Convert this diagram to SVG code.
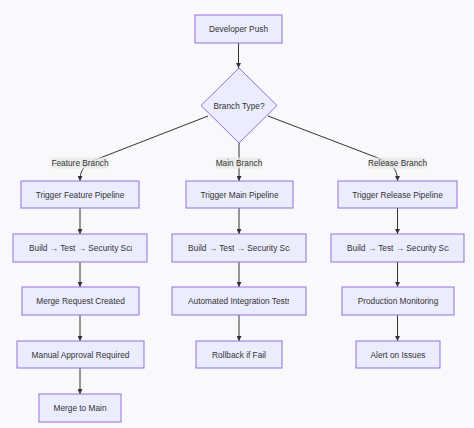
<svg xmlns="http://www.w3.org/2000/svg" width="474" height="428" viewBox="0 0 474 428">
<style>
.n rect,.n polygon{fill:#ECECFF;stroke:#9370DB;stroke-width:1}
text{font-family:"Liberation Sans",Arial,sans-serif;font-size:8.3px;fill:#333;dominant-baseline:central}
.c{text-anchor:middle}
.s{text-anchor:start}
.e path{fill:none;stroke:#333;stroke-width:1;marker-end:url(#ah)}
.lb rect{fill:#e8e8e8;fill-opacity:0.8}
</style>
<defs>
<marker id="ah" viewBox="0 0 10 10" refX="10" refY="5" markerWidth="5" markerHeight="5" orient="auto" markerUnits="userSpaceOnUse">
<path d="M0,0 L10,5 L0,10 z" fill="#333"/>
</marker>
<clipPath id="cl1"><rect x="28" y="234" width="104" height="28"/></clipPath>
<clipPath id="cl2"><rect x="187" y="234" width="103" height="28"/></clipPath>
<clipPath id="cl3"><rect x="346" y="234" width="103" height="28"/></clipPath>
<clipPath id="cl4"><rect x="187" y="287" width="102" height="28"/></clipPath>
</defs>
<rect width="474" height="428" fill="#f9f9fb"/>
<g class="e" id="connectors">
<path d="M238.5,43 L238.5,68"/>
<path d="M208,116 L100,158 C84,164 80,170 80,181"/>
<path d="M239,143 L239,181"/>
<path d="M268,116 L378,158 C393,164 397.5,170 397.5,181"/>
<path d="M80,208 L80,234"/>
<path d="M80,262 L80,287"/>
<path d="M80,315 L80,341"/>
<path d="M80,368 L80,394"/>
<path d="M239,208 L239,234"/>
<path d="M239,262 L239,287"/>
<path d="M239,315 L239,341"/>
<path d="M397.5,208 L397.5,234"/>
<path d="M397.5,262 L397.5,287"/>
<path d="M397.5,315 L397.5,341"/>
</g>
<g class="lb" id="edge-labels">
<rect x="52" y="157.5" width="56" height="11"/><text class="c" x="80" y="163">Feature Branch</text>
<rect x="216" y="157.5" width="46" height="11"/><text class="c" x="239" y="163">Main Branch</text>
<rect x="369" y="157.5" width="57" height="11"/><text class="c" x="397.5" y="163">Release Branch</text>
</g>
<g class="n" id="push"><rect x="195" y="15" width="87" height="28"/><text class="c" x="238.5" y="29">Developer Push</text></g>
<g class="n" id="branch"><polygon points="239,68 277,105.5 239,143 201,105.5"/><text class="c" x="239" y="105.5">Branch Type?</text></g>
<g class="n" id="trig-feature"><rect x="21" y="181" width="118" height="27"/><text class="c" x="80" y="194.5">Trigger Feature Pipeline</text></g>
<g class="n" id="trig-main"><rect x="186" y="181" width="107" height="27"/><text class="c" x="239.5" y="194.5">Trigger Main Pipeline</text></g>
<g class="n" id="trig-release"><rect x="338" y="181" width="119" height="27"/><text class="c" x="397.5" y="194.5">Trigger Release Pipeline</text></g>
<g class="n" id="build-feature"><rect x="13" y="234" width="134" height="28"/><text class="s" x="29" y="248" clip-path="url(#cl1)">Build → Test → Security Sca</text></g>
<g class="n" id="build-main"><rect x="172" y="234" width="134" height="28"/><text class="s" x="188" y="248" clip-path="url(#cl2)">Build → Test → Security Sca</text></g>
<g class="n" id="build-release"><rect x="331" y="234" width="133" height="28"/><text class="s" x="347" y="248" clip-path="url(#cl3)">Build → Test → Security Sca</text></g>
<g class="n" id="merge-request"><rect x="22" y="287" width="117" height="28"/><text class="c" x="80.5" y="301">Merge Request Created</text></g>
<g class="n" id="integration"><rect x="172" y="287" width="134" height="28"/><text class="s" x="188" y="301" clip-path="url(#cl4)">Automated Integration Tests</text></g>
<g class="n" id="monitoring"><rect x="342" y="287" width="112" height="28"/><text class="c" x="398" y="301">Production Monitoring</text></g>
<g class="n" id="approval"><rect x="17" y="341" width="127" height="27"/><text class="c" x="80.5" y="354.5">Manual Approval Required</text></g>
<g class="n" id="rollback"><rect x="196" y="341" width="86" height="27"/><text class="c" x="239" y="354.5">Rollback if Fail</text></g>
<g class="n" id="alert"><rect x="356" y="341" width="84" height="27"/><text class="c" x="398" y="354.5">Alert on Issues</text></g>
<g class="n" id="merge-main"><rect x="39" y="394" width="82" height="28"/><text class="c" x="80" y="408">Merge to Main</text></g>
</svg>
